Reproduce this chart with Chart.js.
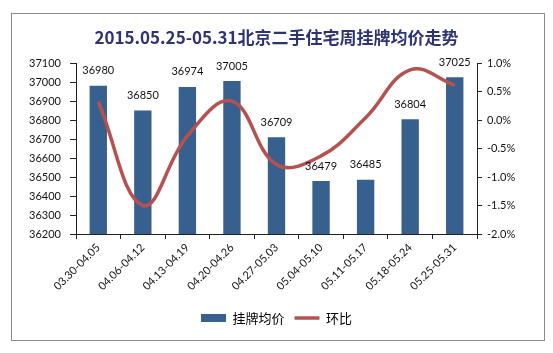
<!DOCTYPE html>
<html>
<head>
<meta charset="utf-8">
<script src="https://cdn.jsdelivr.net/npm/chart.js@4/dist/chart.umd.min.js"></script>
<style>
    html, body { margin: 0; padding: 0; background: #fff; }
    #wrap { position: relative; width: 553px; height: 353px; }
    #frame { position: absolute; left: 11px; top: 13px; width: 532px; height: 326px;
             border: 1px solid #8a8a8a; pointer-events: none; }
    canvas { position: absolute; left: 0; top: 0; }
</style>
</head>
<body>
<div id="wrap">
    <canvas id="grafico" width="553" height="353"></canvas>
    <div id="frame"></div>
</div>
<script>
// semanas (eixo x)
const semanas = ["03.30-04.05", "04.06-04.12", "04.13-04.19", "04.20-04.26", "04.27-05.03",
                 "05.04-05.10", "05.11-05.17", "05.18-05.24", "05.25-05.31"];
// 挂牌均价 (元/平米)
const precoMedio = [36980, 36850, 36974, 37005, 36709, 36479, 36485, 36804, 37025];
// 环比 (%)
const variacao = [0.32, -1.5, -0.28, 0.33, -0.78, -0.63, 0.04, 0.88, 0.61];

const AZUL = "#37608f";
const VERMELHO = "#b5524f";
const fonteNum = "Lato, 'Liberation Sans', sans-serif";
const fonteCJK = "'Noto Sans CJK SC', sans-serif";

// rótulos em cima das barras
const rotulosBarras = {
    id: "rotulosBarras",
    afterDatasetsDraw(chart) {
        const ctx = chart.ctx;
        const meta = chart.getDatasetMeta(1);
        ctx.save();
        ctx.font = "11px " + fonteNum;
        ctx.fillStyle = "#111";
        ctx.textAlign = "center";
        ctx.textBaseline = "middle";
        meta.data.forEach((bar, i) => {
            ctx.fillText(String(precoMedio[i]), bar.x, bar.y - 15);
        });
        ctx.restore();
    }
};

const eixo = { color: "#222", width: 1 };

new Chart(document.getElementById("grafico"), {
    data: {
        labels: semanas,
        datasets: [
            {
                type: "line",
                label: "环比",
                data: variacao,
                yAxisID: "y2",
                borderColor: VERMELHO,
                backgroundColor: VERMELHO,
                borderWidth: 3.5,
                tension: .4,
                pointRadius: 0,
                pointStyle: "line",
                order: 0
            },
            {
                type: "bar",
                label: "挂牌均价",
                data: precoMedio,
                yAxisID: "y",
                backgroundColor: AZUL,
                borderWidth: 0,
                barPercentage: .78,
                categoryPercentage: .5,
                pointStyle: "rect",
                order: 1
            }
        ]
    },
    options: {
        responsive: false,
        animation: false,
        layout: { padding: { left: 10, right: 10, top: 0, bottom: 18.5 } },
        plugins: {
            title: {
                display: true,
                text: "2015.05.25-05.31北京二手住宅周挂牌均价走势",
                color: "#2f3470",
                font: { family: fonteCJK, size: 17, weight: "bold" },
                padding: { top: 27.8, bottom: 14.8 }
            },
            legend: {
                position: "bottom",
                reverse: true,
                labels: {
                    usePointStyle: true,
                    pointStyleWidth: 25,
                    boxHeight: 8,
                    padding: 10,
                    color: "#000",
                    font: { family: fonteCJK, size: 13 }
                }
            },
            tooltip: { enabled: false }
        },
        scales: {
            x: {
                offset: true,
                grid: { offset: true, drawOnChartArea: false, drawTicks: true, tickLength: 5, color: "#222" },
                border: eixo,
                ticks: { color: "#111", font: { family: fonteNum, size: 11 },
                         maxRotation: 45, minRotation: 45, autoSkip: false, padding: 2 },
                afterFit: s => { s.height = 67.5; }
            },
            y: {
                position: "left",
                min: 36200, max: 37100,
                ticks: { stepSize: 100, color: "#111", font: { family: fonteNum, size: 11 }, padding: 9,
                         callback: v => String(v) },
                grid: { drawOnChartArea: false, drawTicks: true, tickLength: 6, color: "#222" },
                border: eixo,
                afterFit: s => { s.width = 66; }
            },
            y2: {
                position: "right",
                min: -2, max: 1,
                ticks: { stepSize: .5, color: "#111", font: { family: fonteNum, size: 11 }, padding: 5,
                         callback: v => v.toFixed(1) + "%" },
                grid: { drawOnChartArea: false, drawTicks: true, tickLength: 5, color: "#222" },
                border: eixo,
                afterFit: s => { s.width = 66; }
            }
        }
    },
    plugins: [rotulosBarras]
});
</script>
</body>
</html>
